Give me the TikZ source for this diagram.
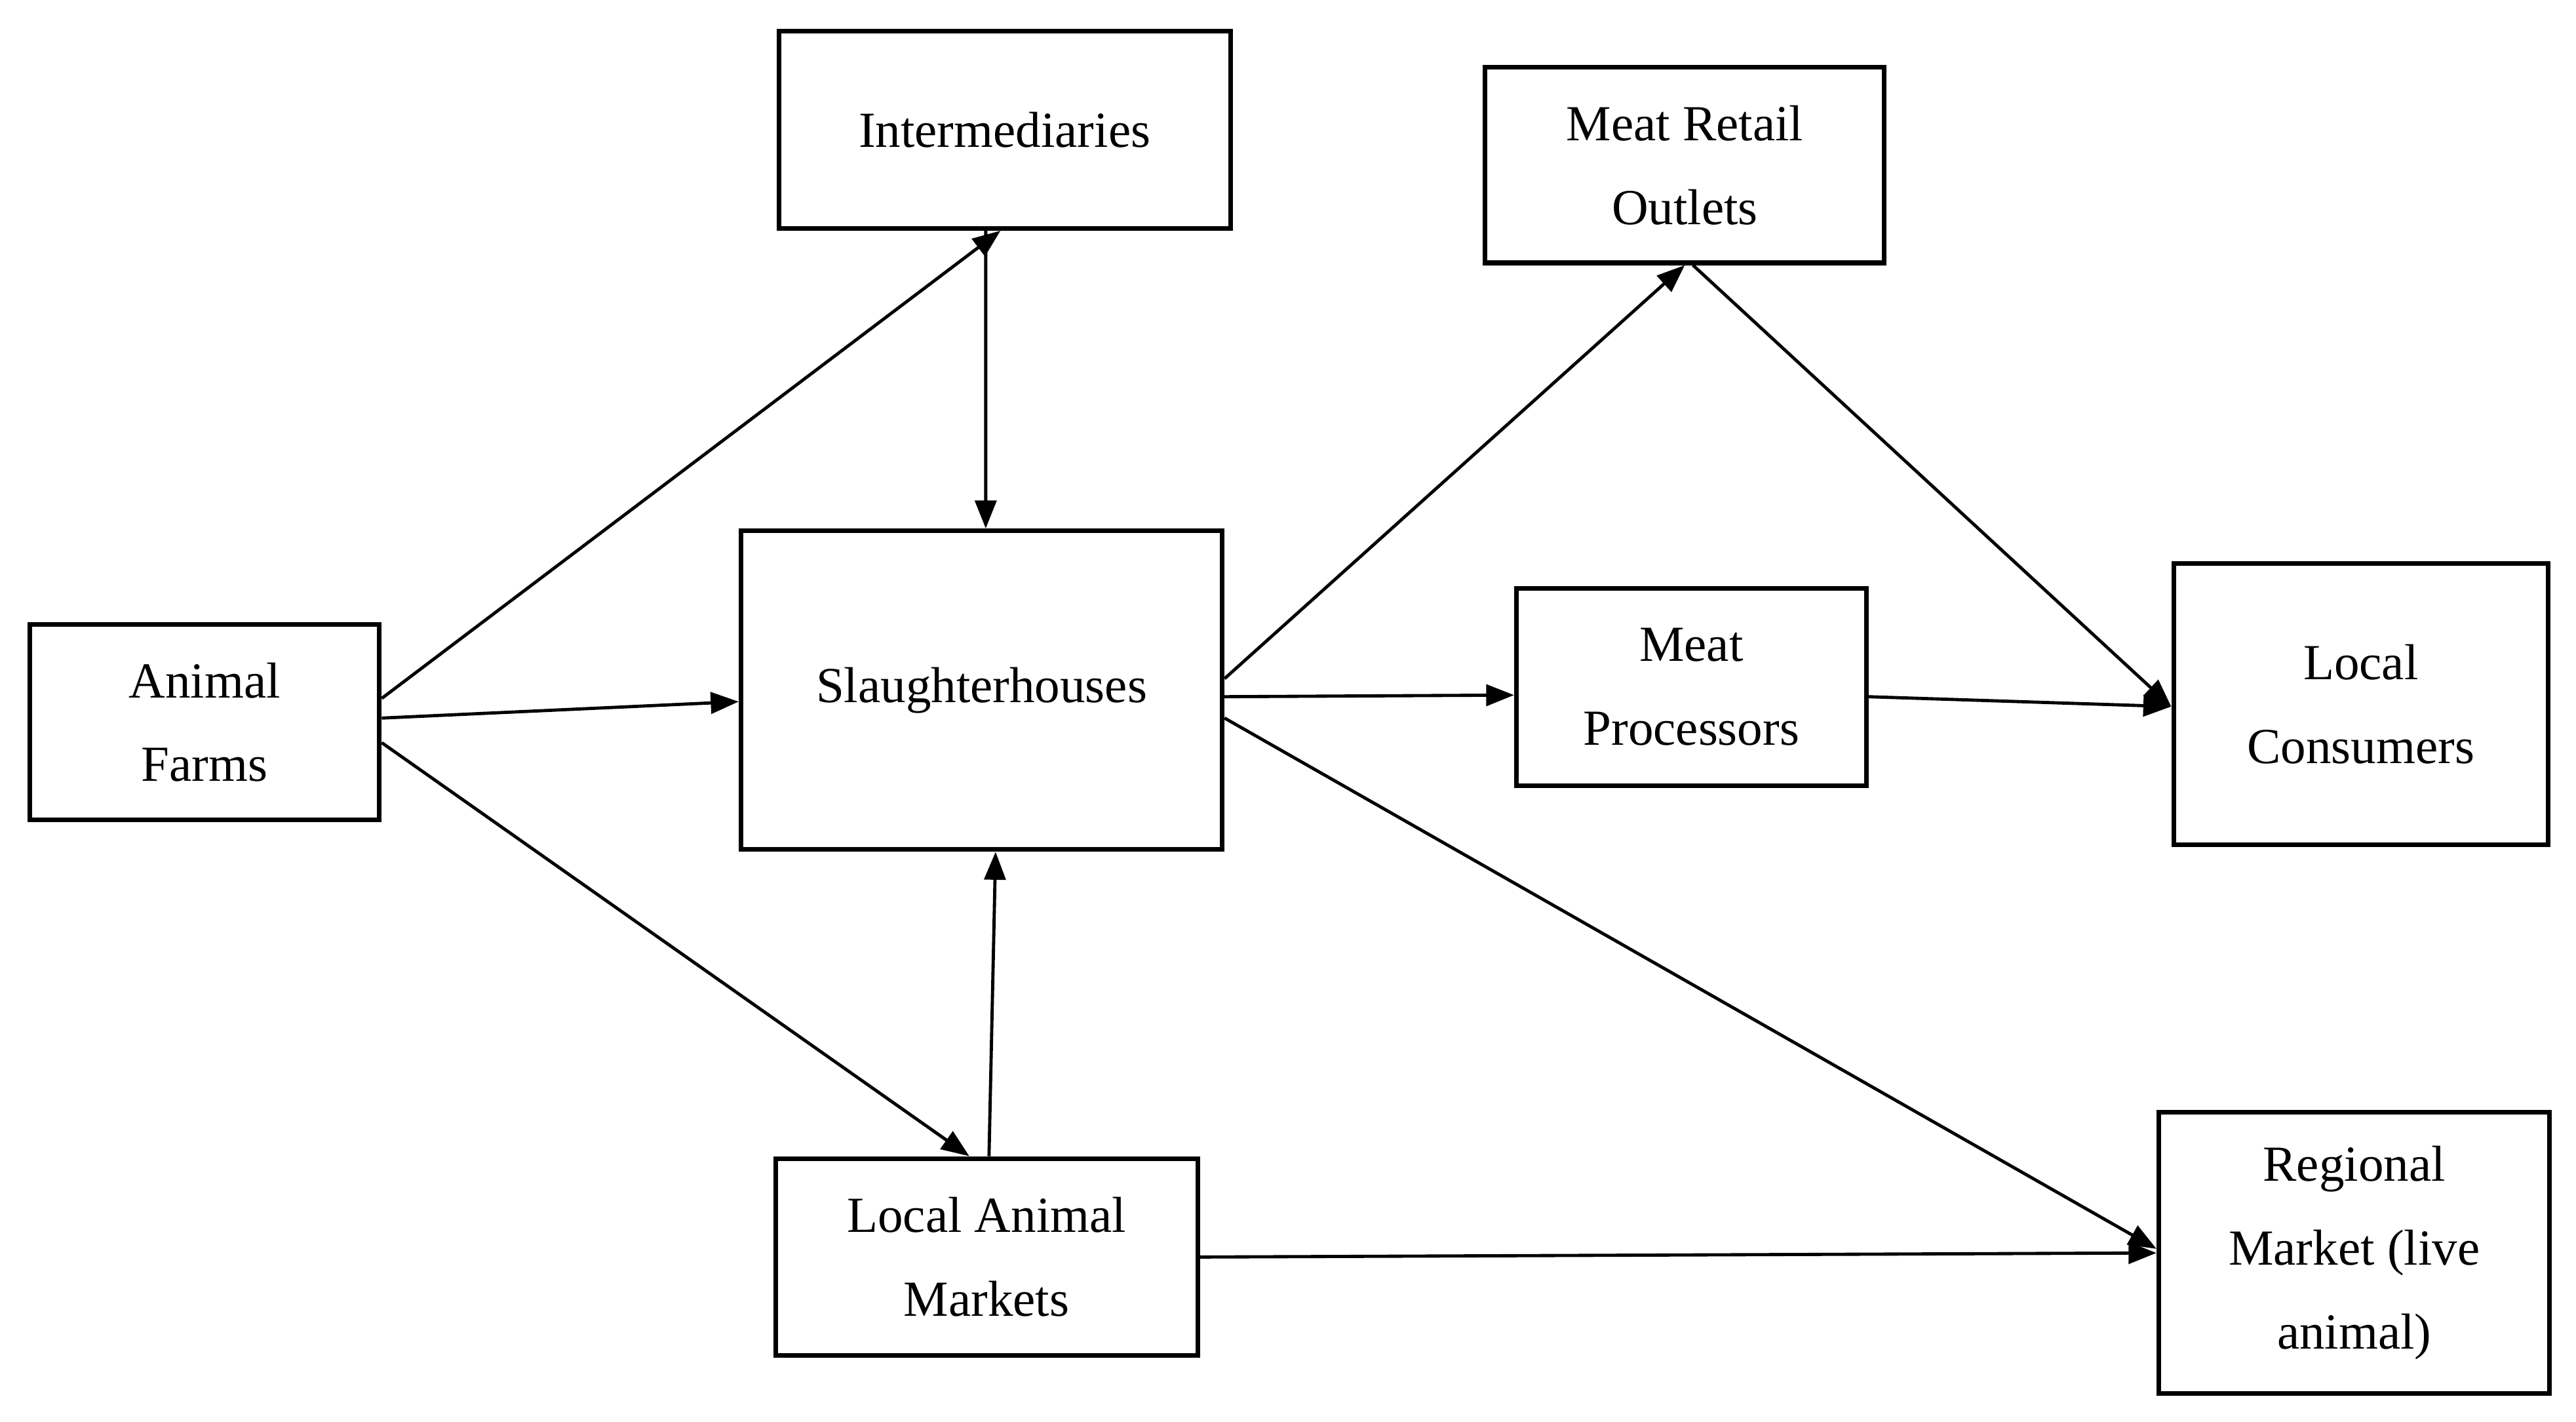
\documentclass[tikz,border=0pt]{standalone}
\usepackage{fontspec}
\setmainfont{Liberation Serif}
\usetikzlibrary{arrows.meta}

\tikzstyle{b} = [rectangle, draw=black, line width=1.6pt, fill=white, align=center, font=\fontsize{17.5}{29}\selectfont, inner sep=0pt]
\tikzstyle{a} = [-{Triangle[length=0.34cm,width=0.26cm]}, line width=1.1pt]

\begin{document}
\begin{tikzpicture}[x=0.02cm,y=-0.02cm]
    \useasboundingbox (0,0) rectangle (1568,865);

    \node[b, minimum width=4.26cm, minimum height=2.38cm] (F) at (124.5,439.5) {Animal\\Farms};
    \node[b, minimum width=5.5cm, minimum height=2.4cm] (I) at (611.5,79) {Intermediaries};
    \node[b, minimum width=5.86cm, minimum height=3.88cm] (S) at (597.5,420) {Slaughterhouses};
    \node[b, minimum width=5.14cm, minimum height=2.4cm] (M) at (600.5,765) {Local Animal\\Markets};
    \node[b, minimum width=4.86cm, minimum height=2.38cm] (R) at (1025.5,100.5) {Meat Retail\\Outlets};
    \node[b, minimum width=4.26cm, minimum height=2.4cm] (P) at (1029.5,418) {Meat\\Processors};
    \node[b, minimum width=4.56cm, minimum height=3.42cm] (C) at (1437,428.5) {Local\\Consumers};
    \node[b, minimum width=4.76cm, minimum height=3.42cm] (G) at (1433,762.5) {Regional\\Market (live\\animal)};

    \draw[a] ([yshift=0.29cm]F.east) -- ([xshift=-0.05cm]I.south);
    \draw[a] ([yshift=0.05cm]F.east) -- ([yshift=-0.14cm]S.west);
    \draw[a] ([yshift=-0.25cm]F.east) -- ([xshift=-0.21cm]M.north);
    \draw[a] ([xshift=-0.23cm]I.south) -- ([xshift=0.05cm]S.north);
    \draw[a] ([xshift=0.03cm]M.north) -- ([xshift=0.17cm]S.south);
    \draw[a] ([yshift=0.14cm]S.east) -- (R.south);
    \draw[a] ([yshift=-0.08cm]S.east) -- ([yshift=-0.1cm]P.west);
    \draw[a] ([yshift=-0.34cm]S.east) -- ([yshift=0.05cm]G.west);
    \draw[a] ([xshift=0.1cm]R.south) -- ([yshift=-0.03cm]C.west);
    \draw[a] ([yshift=-0.12cm]P.east) -- ([yshift=-0.03cm]C.west);
    \draw[a] (M.east) -- (G.west);

\end{tikzpicture}
\end{document}
